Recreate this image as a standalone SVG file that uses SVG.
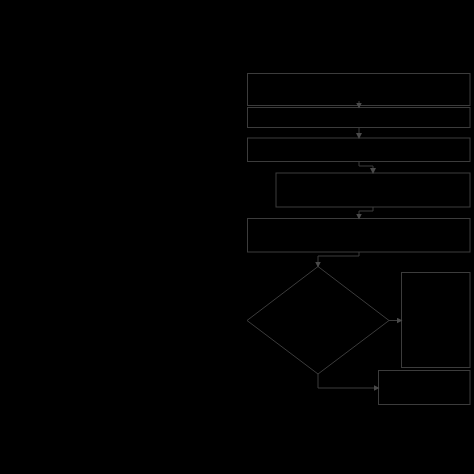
<svg xmlns="http://www.w3.org/2000/svg" width="474" height="474" viewBox="0 0 474 474">
<defs>
<style>
.n{fill:#000;stroke:#3c3c3c;stroke-width:1}
.c{fill:none;stroke:#3c3c3c;stroke-width:1}
</style>
<marker id="ah" markerWidth="6" markerHeight="6" refX="5" refY="3" orient="auto" markerUnits="userSpaceOnUse">
<path d="M0,0 L6,3 L0,6 Z" fill="#4a4a4a"/>
</marker>
</defs>
<rect width="474" height="474" fill="#000"/>
<g id="node1"><rect class="n" x="247.5" y="73.5" width="222.5" height="32"/></g>
<g id="node2"><rect class="n" x="247.5" y="107.5" width="222.5" height="20"/></g>
<g id="node3"><rect class="n" x="247.5" y="138" width="222.5" height="23.5"/></g>
<g id="node4"><rect class="n" x="276" y="173" width="194" height="34"/></g>
<g id="node5"><rect class="n" x="247.5" y="218.5" width="222.5" height="33.5"/></g>
<g id="node6"><polygon class="n" points="318,266.5 389,320.5 318,374 247,320.5"/></g>
<g id="node7"><rect class="n" x="401.5" y="272.5" width="68.5" height="95"/></g>
<g id="node8"><rect class="n" x="378.5" y="370.5" width="91.5" height="34"/></g>
<g id="connectors">
<path class="c" d="M359,101 L359,107.5" marker-end="url(#ah)"/>
<path class="c" d="M359,127.5 L359,138" marker-end="url(#ah)"/>
<path class="c" d="M359,161.5 L359,166 L373,166 L373,173" marker-end="url(#ah)"/>
<path class="c" d="M373,207 L373,211 L359,211 L359,218.5" marker-end="url(#ah)"/>
<path class="c" d="M359,252 L359,256 L318,256 L318,266.5" marker-end="url(#ah)"/>
<path class="c" d="M389,320.5 L401.5,320.5" marker-end="url(#ah)"/>
<path class="c" d="M318,374 L318,388 L378.5,388" marker-end="url(#ah)"/>
</g>
</svg>
